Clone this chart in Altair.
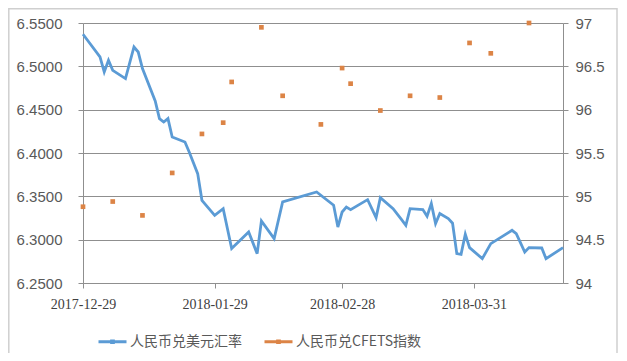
import altair as alt
import pandas as pd

# ---- data ----
series_names = ["人民币兑美元汇率", "人民币兑CFETS指数"]

usd_dates = [
    "2017-12-29", "2018-01-02", "2018-01-03", "2018-01-04", "2018-01-05",
    "2018-01-08", "2018-01-10", "2018-01-11", "2018-01-12", "2018-01-15",
    "2018-01-16", "2018-01-17", "2018-01-18", "2018-01-19", "2018-01-22",
    "2018-01-23", "2018-01-25", "2018-01-26", "2018-01-29", "2018-01-31",
    "2018-02-02", "2018-02-06", "2018-02-08", "2018-02-09", "2018-02-12",
    "2018-02-14", "2018-02-22", "2018-02-26", "2018-02-27", "2018-02-28",
    "2018-03-01", "2018-03-02", "2018-03-06", "2018-03-08", "2018-03-09",
    "2018-03-12", "2018-03-14", "2018-03-15", "2018-03-16", "2018-03-19",
    "2018-03-20", "2018-03-21", "2018-03-22", "2018-03-23", "2018-03-25",
    "2018-03-26", "2018-03-27", "2018-03-28", "2018-03-29", "2018-03-30",
    "2018-04-02", "2018-04-04", "2018-04-09", "2018-04-10", "2018-04-12",
    "2018-04-13", "2018-04-16", "2018-04-17", "2018-04-21",
]
usd_values = [
    6.5370, 6.5108, 6.4935, 6.5070, 6.4954,
    6.4858, 6.5223, 6.5165, 6.4974, 6.4600,
    6.4397, 6.4358, 6.4397, 6.4185, 6.4127,
    6.4012, 6.3762, 6.3454, 6.3281, 6.3358,
    6.2897, 6.3089, 6.2839, 6.3215, 6.3012,
    6.3435, 6.3550, 6.3397, 6.3146, 6.3319,
    6.3377, 6.3347, 6.3462, 6.3254, 6.3485,
    6.3358, 6.3231, 6.3166, 6.3358, 6.3347,
    6.3270, 6.3416, 6.3185, 6.3301, 6.3243,
    6.3190, 6.2839, 6.2831, 6.3062, 6.2908,
    6.2781, 6.2954, 6.3108, 6.3070, 6.2858,
    6.2908, 6.2904, 6.2781, 6.2908,
]

cfets_dates = [
    "2017-12-29", "2018-01-05", "2018-01-12", "2018-01-19", "2018-01-26",
    "2018-01-31", "2018-02-02", "2018-02-09", "2018-02-14", "2018-02-23",
    "2018-02-28", "2018-03-02", "2018-03-09", "2018-03-16", "2018-03-23",
    "2018-03-30", "2018-04-04", "2018-04-13",
]
cfets_values = [
    94.88, 94.94, 94.78, 95.27, 95.72,
    95.85, 96.32, 96.95, 96.16, 95.83,
    96.48, 96.30, 95.99, 96.16, 96.14,
    96.77, 96.65, 97.00,
]

x_tick_dates = ["2017-12-29", "2018-01-29", "2018-02-28", "2018-03-31"]
x_domain = ["2017-12-29", "2018-04-21"]
left_ticks = [6.25, 6.30, 6.35, 6.40, 6.45, 6.50, 6.55]
right_ticks = [94, 94.5, 95, 95.5, 96, 96.5, 97]

# ---- tables ----
usd_df = pd.DataFrame({"date": usd_dates, "value": usd_values, "series": series_names[0]})
cfets_df = pd.DataFrame({"date": cfets_dates, "value": cfets_values, "series": series_names[1]})
frame_df = pd.DataFrame({"k": [0]})


def dt(s):
    y, m, d = (int(p) for p in s.split("-"))
    return alt.DateTime(year=y, month=m, date=d, utc=True)


BLUE = "#5B9BD5"
ORANGE = "#DC8446"
GRID = "#8f8f8f"
LABEL = "#595959"

color_scale = alt.Scale(domain=series_names, range=[BLUE, ORANGE])

x_enc = alt.X(
    "date:T",
    scale=alt.Scale(type="utc", domain=[dt(s) for s in x_domain]),
    axis=alt.Axis(
        values=[dt(s) for s in x_tick_dates],
        labelExpr="utcFormat(datum.value, '%Y-%m-%d')",
        title=None,
        grid=False,
        labelFont="Liberation Serif",
        labelFontSize=14,
        labelColor="#404040",
        labelPadding=9,
        tickSize=5,
        tickColor=GRID,
        domainColor=GRID,
        labelFlush=False,
        labelOverlap=False,
    ),
)

legend = alt.Legend(
    title=None,
    orient="none",
    legendX=14,
    legendY=303,
    direction="horizontal",
    labelFont="Noto Sans CJK SC",
    labelFontSize=14,
    labelColor=LABEL,
    symbolType="M-1,0H1M-0.06,-0.06H0.06V0.06H-0.06Z",
    symbolSize=784,
    symbolStrokeWidth=3,
    symbolOpacity=1,
    columnPadding=16,
    labelOffset=2,
)

line = alt.Chart(usd_df).mark_line(strokeWidth=2.8).encode(
    x=x_enc,
    y=alt.Y(
        "value:Q",
        scale=alt.Scale(domain=[6.25, 6.55], zero=False, nice=False),
        axis=alt.Axis(
            values=left_ticks,
            format=".4f",
            title=None,
            orient="left",
            labelFont="Liberation Sans",
            labelFontSize=15,
            labelColor=LABEL,
            labelPadding=16,
            tickSize=5,
            tickColor=GRID,
            domainColor=GRID,
            gridColor=GRID,
            gridWidth=1.2,
            grid=True,
        ),
    ),
    color=alt.Color("series:N", scale=color_scale, legend=legend),
)

points = alt.Chart(cfets_df).mark_square(size=22, opacity=1).encode(
    x=x_enc,
    y=alt.Y(
        "value:Q",
        scale=alt.Scale(domain=[94, 97], zero=False, nice=False),
        axis=alt.Axis(
            values=right_ticks,
            format="~g",
            title=None,
            orient="right",
            labelFont="Liberation Sans",
            labelFontSize=15,
            labelColor=LABEL,
            labelPadding=7,
            tickSize=5,
            tickColor=GRID,
            domainColor=GRID,
            grid=False,
        ),
    ),
    color=alt.Color("series:N", scale=color_scale, legend=None),
)

frame = alt.Chart(frame_df).mark_rect(
    fill="transparent", stroke="#cfcfcf", strokeWidth=1.5
).encode(
    x=alt.value(-74.2),
    x2=alt.value(534),
    y=alt.value(-14.2),
    y2=alt.value(340),
)

chart = (
    alt.layer(frame, line, points)
    .resolve_scale(y="independent")
    .properties(
        width=480,
        height=260,
        autosize=alt.AutoSizeParams(type="none"),
        padding={"left": 75, "top": 15, "right": 56, "bottom": 70},
        background="white",
    )
    .configure_view(stroke="transparent")
)

chart.save("out.html", embed_options={"renderer": "svg", "actions": False})
